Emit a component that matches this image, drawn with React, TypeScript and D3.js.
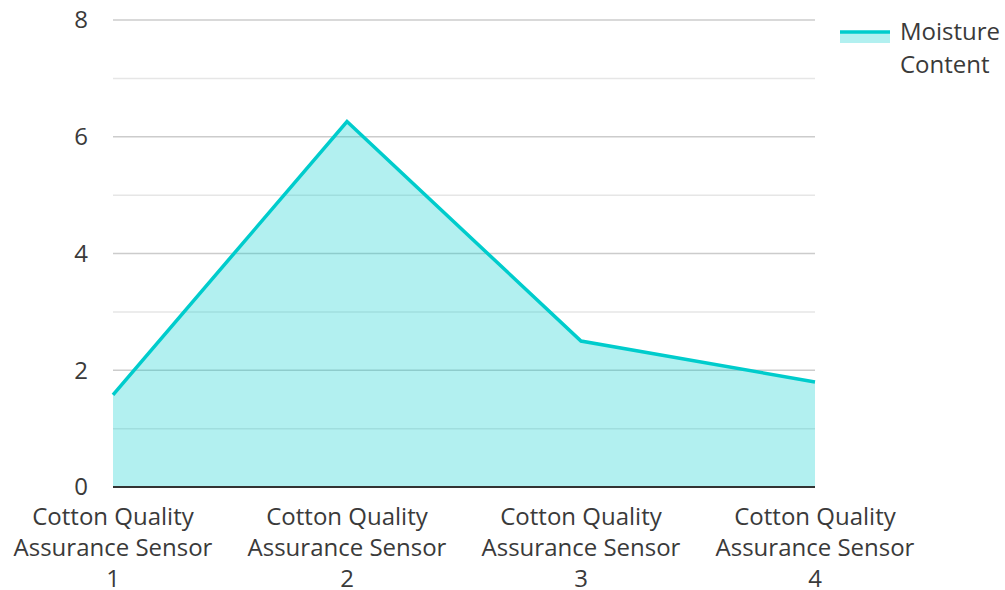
import React from 'react';
import * as d3 from 'd3';

const categories = [
  ['Cotton Quality', 'Assurance Sensor', '1'],
  ['Cotton Quality', 'Assurance Sensor', '2'],
  ['Cotton Quality', 'Assurance Sensor', '3'],
  ['Cotton Quality', 'Assurance Sensor', '4'],
];
const moisture = [1.58, 6.26, 2.5, 1.8];
const yTicks = [0, 2, 4, 6, 8];
const yMinorTicks = [1, 3, 5, 7];
const seriesName = ['Moisture', 'Content'];

const W = 1005;
const H = 590;
const margin = { top: 20, right: 190, bottom: 103, left: 113 };
const FONT = "'Open Sans', 'Noto Sans', sans-serif";
const LINE = '#00cccc';
const TEXT = '#3a3a3a';

export default function App() {
  const x = d3
    .scalePoint<number>()
    .domain(d3.range(categories.length))
    .range([margin.left, W - margin.right])
    .padding(0);
  const y = d3.scaleLinear().domain([0, 8]).range([H - margin.bottom, margin.top]);

  const line = d3
    .line<number>()
    .x((_, i) => x(i)!)
    .y(d => y(d));
  const area = d3
    .area<number>()
    .x((_, i) => x(i)!)
    .y0(y(0))
    .y1(d => y(d));

  const x0 = margin.left;
  const x1 = W - margin.right;

  return (
    <svg
      width={W}
      height={H}
      style={{ position: 'absolute', left: 0, top: 0, fontFamily: FONT }}
    >
      <rect width={W} height={H} fill="#fff" />
      {yMinorTicks.map(t => (
        <line key={'m' + t} x1={x0} x2={x1} y1={y(t)} y2={y(t)} stroke="#e6e6e6" strokeWidth={1.5} />
      ))}
      {yTicks.slice(1).map(t => (
        <line key={'g' + t} x1={x0} x2={x1} y1={y(t)} y2={y(t)} stroke="#cccccc" strokeWidth={1.5} />
      ))}
      {yTicks.map(t => (
        <text key={'t' + t} x={88} y={y(t)} dy="0.35em" textAnchor="end" fontSize={24} fill={TEXT}>
          {t}
        </text>
      ))}
      <path d={area(moisture)!} fill={LINE} fillOpacity={0.3} />
      <path d={line(moisture)!} fill="none" stroke={LINE} strokeWidth={3.5} strokeLinejoin="miter" />
      <line x1={x0} x2={x1} y1={y(0)} y2={y(0)} stroke="#333" strokeWidth={2} />
      {categories.map((lines, i) => (
        <text key={'c' + i} x={x(i)} y={y(0) + 38} textAnchor="middle" fontSize={24} fill={TEXT}>
          {lines.map((l, j) => (
            <tspan key={j} x={x(i)} dy={j === 0 ? 0 : 31}>
              {l}
            </tspan>
          ))}
        </text>
      ))}
      <g>
        <rect x={840} y={32} width={50} height={11} fill={LINE} fillOpacity={0.3} />
        <line x1={840} x2={890} y1={32} y2={32} stroke={LINE} strokeWidth={3.5} />
        <text x={900} y={40} fontSize={24} fill={TEXT}>
          {seriesName.map((l, j) => (
            <tspan key={j} x={900} dy={j === 0 ? 0 : 33}>
              {l}
            </tspan>
          ))}
        </text>
      </g>
    </svg>
  );
}
